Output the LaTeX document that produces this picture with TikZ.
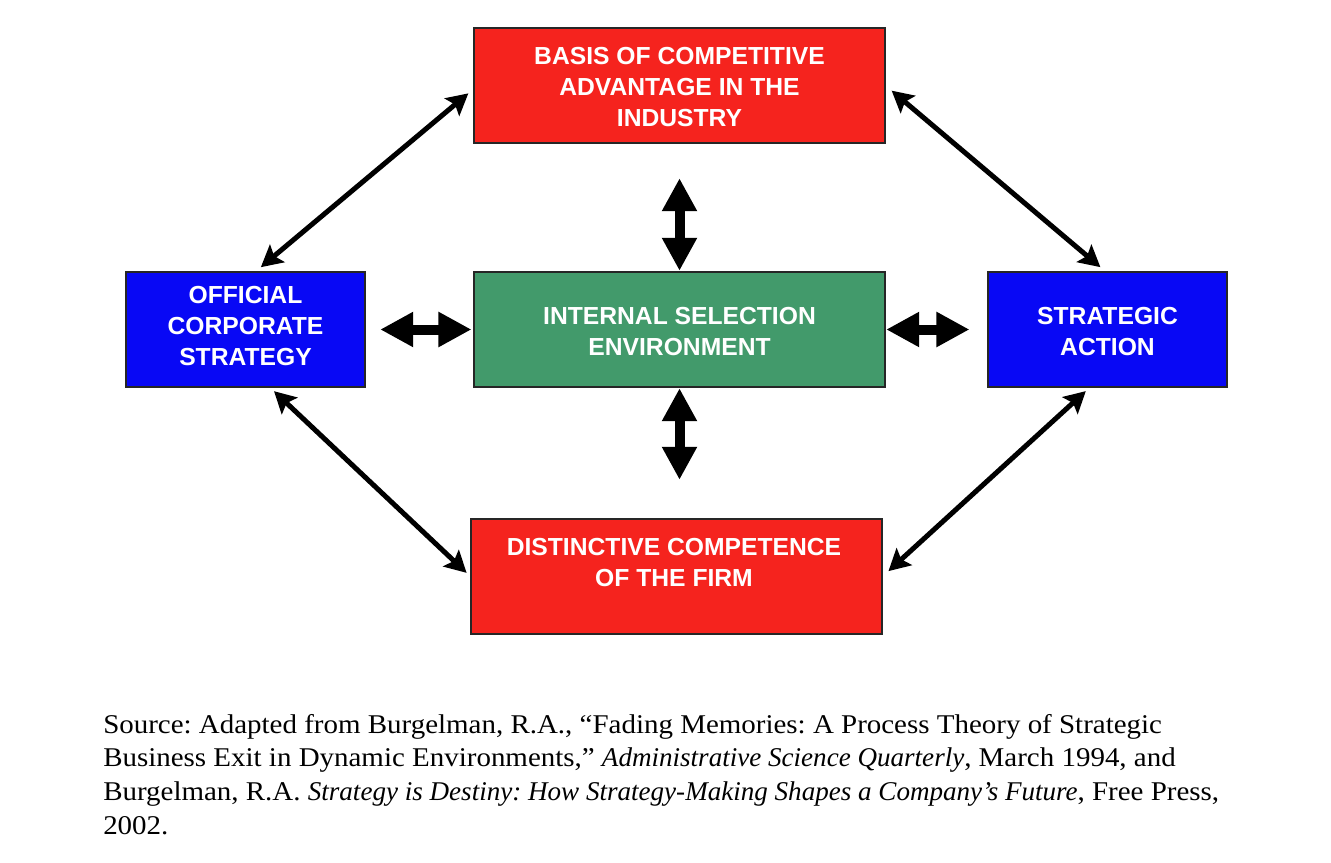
\documentclass[tikz,border=0pt]{standalone}
\usepackage{fontspec}
\setmainfont{Liberation Serif}
\newfontfamily\boxfont{Liberation Sans}
\newfontfamily\srcfont[FakeStretch=1.07, ItalicFeatures={FakeStretch=1.0}]{Liberation Serif}
\usepackage{xcolor}
\usepackage{tikz}
\usetikzlibrary{positioning, arrows.meta}
\definecolor{boxred}{HTML}{F5231E}
\definecolor{boxblue}{HTML}{0808F5}
\definecolor{boxgreen}{HTML}{429A6B}
\tikzset{
  block/.style={rectangle, draw=black!85, line width=0.8pt,
                minimum height=86.25pt, inner sep=0pt},
  wide/.style={block, minimum width=308.25pt},
  narrow/.style={block, minimum width=179.25pt},
  boxtext/.style={text=white, align=center, inner sep=0pt,
                  font=\boxfont\bfseries\fontsize{18.5}{23.25}\selectfont},
  arr/.style={{Stealth[length=16pt, width=17pt, inset=3pt]}-{Stealth[length=16pt, width=17pt, inset=3pt]},
              line width=3.75pt},
  fatarr/.style={{Triangle[length=24.75pt, width=24.75pt]}-{Triangle[length=24.75pt, width=24.75pt]},
                 line width=7.5pt},
}

\begin{document}
\frenchspacing
\begin{tikzpicture}[x=0.75pt, y=-0.75pt]
  \useasboundingbox (0,0) rectangle (1331,863);

  % Row 1: industry level
  \node[wide, fill=boxred] at (679.5, 85.5) (basis) {};
  \node[boxtext] at (679.5, 87.5) (basislbl)
    {BASIS OF COMPETITIVE\\ADVANTAGE IN THE\\INDUSTRY};

  % Row 2: strategy, selection environment, action
  \node[narrow, fill=boxblue] at (245.5, 329.5) (official) {};
  \node[boxtext] at (245.5, 326.5) (officiallbl)
    {OFFICIAL\\CORPORATE\\STRATEGY};
  \node[wide, fill=boxgreen] at (679.5, 329.5) (internal) {};
  \node[boxtext] at (679.5, 331.5) (internallbl)
    {INTERNAL SELECTION\\ENVIRONMENT};
  \node[narrow, fill=boxblue] at (1107.5, 329.5) (action) {};
  \node[boxtext] at (1107.5, 331.5) (actionlbl)
    {STRATEGIC\\ACTION};

  % Row 3: firm level
  \node[wide, fill=boxred] at (676.5, 576.5) (competence) {};
  \node[boxtext] at (674, 563) (competencelbl)
    {DISTINCTIVE COMPETENCE\\OF THE FIRM};

  % Thin diagonal arrows round the ring
  \draw[arr, shorten <=5pt, shorten >=5pt] (official.80) -- (basis.181);
  \draw[arr, shorten <=6pt, shorten >=5pt] (basis.east) -- (action.92);
  \draw[arr, shorten <=4pt, shorten >=4pt] (official.293) -- (competence.west);
  \draw[arr, shorten <=4pt, shorten >=6pt] (action.253) -- (competence.east);

  % Block arrows round the selection environment
  \draw[fatarr, shorten <=26pt, shorten >=0.5pt] (basis.south) -- (internal.north);
  \draw[fatarr, shorten <=0.5pt, shorten >=29pt] (internal.south) -- (internal.south |- competence.north);
  \draw[fatarr, shorten <=11pt, shorten >=1.5pt] (official.east) -- (internal.west);
  \draw[fatarr, shorten <=0.5pt, shorten >=13.5pt] (internal.east) -- (action.west);

  % Source note
  \node[anchor=north west, align=left, inner sep=0pt,
        font=\srcfont\fontsize{20.3}{25.2}\selectfont] at (103, 714) (source)
    {Source: Adapted from Burgelman, R.A., “Fading Memories: A Process Theory of Strategic\\
     Business Exit in Dynamic Environments,” \textit{Administrative Science Quarterly}, March 1994, and\\
     Burgelman, R.A. \textit{Strategy is Destiny: How Strategy-Making Shapes a Company’s Future}, Free Press,\\
     2002.};

\end{tikzpicture}
\end{document}
